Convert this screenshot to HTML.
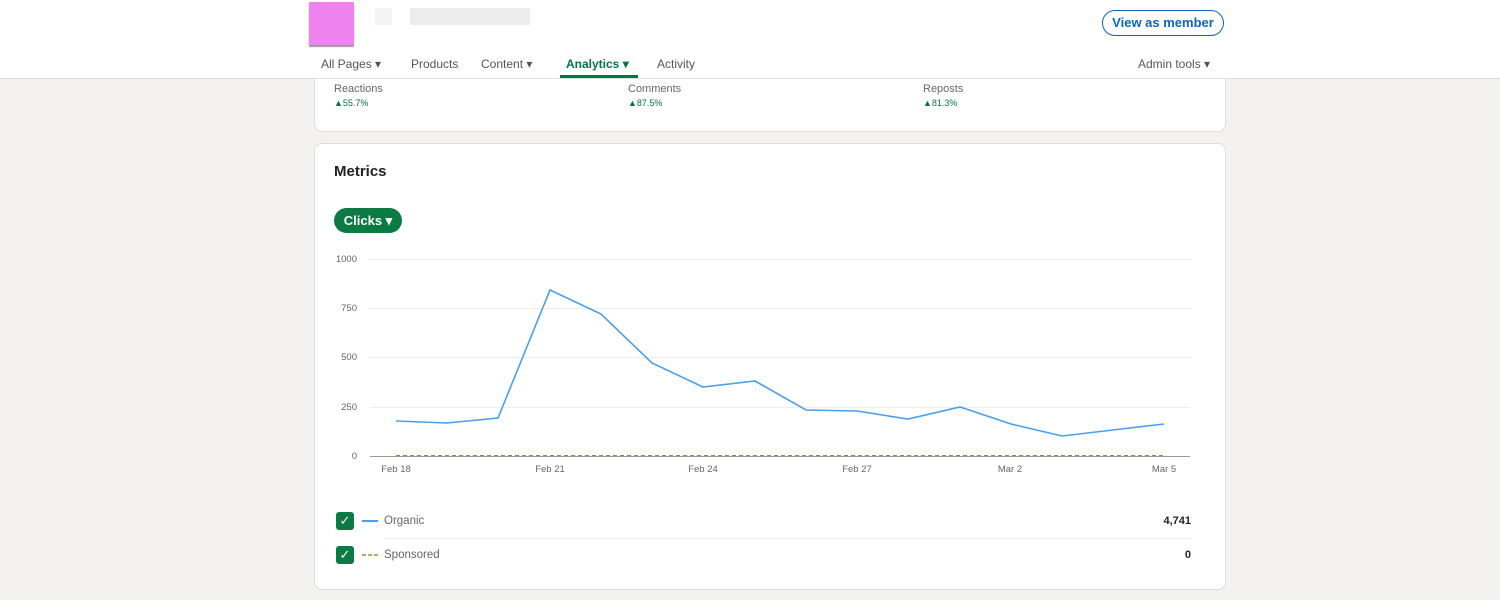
<!DOCTYPE html>
<html><head><style>
body{margin:0;width:1500px;height:600px;background:#f3f2ef;font-family:"Liberation Sans",sans-serif;position:relative;overflow:hidden}
.top{position:absolute;left:0;top:0;width:1500px;height:78px;background:#fff;border-bottom:1px solid #e0e0e0}
.nav{position:absolute;top:57px;font-size:12px;color:#555}
.card{position:absolute;left:314px;width:910px;background:#fff;border:1px solid #ddd;border-radius:8px}
.t{position:absolute;font-size:11px;color:#666}
.g{position:absolute;font-size:9px;color:#057642}
.ax{font-size:9.5px;fill:#666;font-family:"Liberation Sans",sans-serif}
.cb{position:absolute;left:336px;width:18px;height:18px;background:#0b7a43;border-radius:3px;color:#fff;font-size:13px;text-align:center;line-height:18px}
</style></head><body>
<div class="card" style="top:60px;height:70px"></div>
<div class="top">
<div style="position:absolute;left:309px;top:2px;width:45px;height:43px;background:#ee82ee;box-shadow:0 2px 1px #999"></div>
<div style="position:absolute;left:375px;top:8px;width:17px;height:17px;background:#f1f4f4"></div>
<div style="position:absolute;left:410px;top:8px;width:120px;height:17px;background:#ececec"></div>
<div style="position:absolute;left:1102px;top:10px;width:120px;height:24px;border:1.5px solid #0a66c2;border-radius:14px;color:#0a66c2;font-size:13px;font-weight:bold;text-align:center;line-height:24px">View as member</div>
<div class="nav" style="left:321px">All Pages &#9662;</div>
<div class="nav" style="left:411px">Products</div>
<div class="nav" style="left:481px">Content &#9662;</div>
<div class="nav" style="left:566px;color:#057642;font-weight:bold">Analytics &#9662;</div>
<div style="position:absolute;left:560px;top:75px;width:78px;height:3px;background:#057642"></div>
<div class="nav" style="left:657px">Activity</div>
<div class="nav" style="left:1138px">Admin tools &#9662;</div>
</div>
<div class="t" style="left:334px;top:83px">Reactions</div><div class="g" style="left:334px;top:98px">▲55.7%</div>
<div class="t" style="left:628px;top:83px">Comments</div><div class="g" style="left:628px;top:98px">▲87.5%</div>
<div class="t" style="left:923px;top:83px">Reposts</div><div class="g" style="left:923px;top:98px">▲81.3%</div>
<div class="card" style="top:143px;height:445px"></div>
<div style="position:absolute;left:334px;top:163px;font-size:15px;font-weight:bold;color:#222">Metrics</div>
<div style="position:absolute;left:334px;top:208px;width:68px;height:25px;background:#0b7a43;border-radius:13px;color:#fff;font-size:13px;font-weight:bold;line-height:25px;text-align:center">Clicks ▾</div>
<svg style="position:absolute;left:0;top:0" width="1500" height="600">
<g stroke="#eee" stroke-width="1">
<line x1="370" x2="1190" y1="259.5" y2="259.5"/><line x1="370" x2="1190" y1="308.5" y2="308.5"/><line x1="370" x2="1190" y1="357.5" y2="357.5"/><line x1="370" x2="1190" y1="407.5" y2="407.5"/></g>
<line x1="370" x2="1190" y1="456.5" y2="456.5" stroke="#999"/>
<g class="ax" text-anchor="end"><text x="357" y="262">1000</text><text x="357" y="311">750</text><text x="357" y="360">500</text><text x="357" y="410">250</text><text x="357" y="459">0</text></g>
<g class="ax" text-anchor="middle"><text x="396" y="472">Feb 18</text><text x="550" y="472">Feb 21</text><text x="703" y="472">Feb 24</text><text x="857" y="472">Feb 27</text><text x="1010" y="472">Mar 2</text><text x="1164" y="472">Mar 5</text></g>
<line x1="396" x2="1164" y1="455.5" y2="455.5" stroke="#8a9a2a" stroke-dasharray="4,3"/>
<polyline fill="none" stroke="#4a9ff0" stroke-width="1.6" points="396,421 447,423 498,418 550,290 601,314 652,363 703,387 755,381 806,410 857,411 908,419 960,407 1011,424 1062,436 1113,430 1164,424"/>
<line x1="362" x2="378" y1="521" y2="521" stroke="#4a9ff0" stroke-width="2"/>
<line x1="362" x2="378" y1="555" y2="555" stroke="#8a9a2a" stroke-width="1.5" stroke-dasharray="4,2"/>
<line x1="384" x2="1190" y1="538.5" y2="538.5" stroke="#eee"/>
</svg>
<div class="cb" style="top:512px">✓</div><div class="cb" style="top:546px">✓</div>
<div class="t" style="left:384px;top:515px;font-size:11.5px">Organic</div>
<div class="t" style="left:384px;top:549px;font-size:11.5px">Sponsored</div>
<div style="position:absolute;right:309px;top:515px;font-size:11px;font-weight:bold;color:#222">4,741</div>
<div style="position:absolute;right:309px;top:549px;font-size:11px;font-weight:bold;color:#222">0</div>
</body></html>
